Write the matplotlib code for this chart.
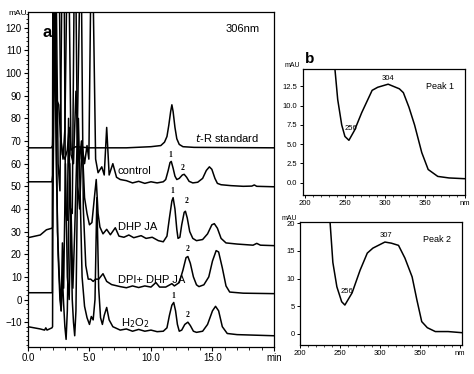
import numpy as np
import matplotlib
matplotlib.use("Agg")
import matplotlib.pyplot as plt
from matplotlib.ticker import MultipleLocator

plt.rcParams['font.family'] = ['Liberation Sans', 'DejaVu Sans']

# ---- panel a: chromatograms at 306 nm (time in min, signal in mAU)
tr_t = [0, 1.9, 2.0, 2.08, 2.15, 2.25, 2.35, 2.5, 2.65, 2.8, 3.0, 3.2, 3.35, 3.5, 3.7, 3.9,
        5.0, 8.0, 10.0, 10.8, 11.1, 11.3, 11.45, 11.6, 11.7, 11.8, 11.95, 12.1, 12.3, 12.6, 13.5, 20]
tr_v = [67, 67, 68, 90, 118, 112, 88, 86, 72, 64, 62, 66, 76, 66, 67, 67.5,
        67, 67, 67.5, 68, 69.5, 72, 77, 83, 86, 83, 76, 71, 68.5, 67.5, 67.2, 67]

ctrl_t = [0, 1.95, 2.02, 2.08, 2.55, 2.7, 2.85, 3.0, 3.15, 3.35, 3.5, 3.7, 3.9, 4.05, 4.2, 4.35,
          4.6, 4.8, 4.95, 5.1, 5.3, 5.5, 5.7, 6.0, 6.2, 6.4, 6.6, 6.9, 7.2, 7.5, 8.0, 8.5, 9.0,
          9.5, 10.0, 10.5, 11.0, 11.2, 11.4, 11.55, 11.65, 11.8, 11.95, 12.1, 12.3, 12.55, 12.7,
          12.9, 13.1, 13.4, 13.8, 14.2, 14.5, 14.75, 14.95, 15.2, 15.4, 15.7, 16.5, 17.5, 18.2,
          18.4, 18.6, 20]
ctrl_v = [52, 52, 55, 135, 135, 70, 62, 75, 135, 135, 64, 60, 92, 70, 62, 70,
          60, 68, 62, 135, 135, 62, 56, 58.6, 55, 76, 55, 60, 54, 53, 52.5, 51.5, 52.2,
          51.3, 52, 51.5, 52, 53, 57, 60.5, 61, 58, 54.5, 53, 53.5, 55, 55.3,
          54, 52.2, 51.5, 51.8, 53.5, 57, 58.6, 57.5, 53.5, 51.3, 50.7, 50.3, 50, 50.1,
          50.6, 50, 49.8]

dhp_t = [0, 1.0, 1.5, 1.95, 2.0, 2.05, 2.3, 2.45, 2.6, 2.75, 2.95, 3.05, 3.2, 3.3, 3.45, 3.6,
         3.75, 3.9, 4.05, 4.2, 4.4, 4.6, 4.8, 5.0, 5.2, 5.4, 5.55, 5.7, 5.85, 6.1, 6.4, 6.7,
         7.1, 7.4, 7.8, 8.2, 8.6, 9.2, 9.6, 10.1, 10.6, 11.0, 11.3, 11.5, 11.7, 11.8, 11.95,
         12.1, 12.2, 12.35, 12.5, 12.7, 12.8, 12.95, 13.15, 13.4, 13.7, 14.2, 14.6, 14.95,
         15.15, 15.4, 15.7, 16.1, 17.0, 18.3, 18.6, 18.9, 20]
dhp_v = [27.3, 28.5, 30.8, 31.5, 32, 135, 135, 60, 48, 135, 135, 40, 35, 80, 40, 38,
         135, 135, 50, 40, 70, 45, 38, 33, 34, 45, 53, 38, 32, 29, 31, 28.6,
         31.7, 28, 27.5, 28.5, 27.3, 28.2, 27, 27.5, 26, 25.5, 28, 36, 43.5, 45, 40,
         31, 27, 27.5, 33, 38.5, 39, 36, 30, 27, 26, 26.5, 29, 33,
         33.5, 31.5, 27, 25, 24.5, 24, 24.8, 24, 23.8]

dpi_t = [0, 1.98, 2.02, 2.2, 2.4, 2.55, 2.7, 2.8, 2.9, 3.05, 3.2, 3.35, 3.5, 3.65, 3.8, 4.0,
         4.2, 4.35, 4.5, 4.7, 4.9, 5.1, 5.3, 5.5, 5.75, 6.1, 6.4, 6.8, 7.5, 8.0, 8.5, 9.0,
         9.5, 10.0, 10.4, 10.7, 11.2, 11.7, 11.9, 12.3, 12.6, 12.85, 13.0, 13.2, 13.45, 13.7,
         13.9, 14.3, 14.7, 15.0, 15.3, 15.5, 15.8, 16.1, 16.4, 17.5, 20]
dpi_v = [3, 3, 135, 135, 30, 10, -5, 25, 5, 60, 10, 0, 40, 5, 30, 70,
         135, 135, 40, 15, 9, 9, 8, 9, 9, 11.4, 8, 6.6, 5.7, 5.2, 6, 5.3,
         6, 5.5, 7.5, 5.5, 5.5, 7, 6, 7.5, 13, 18.5, 19, 16, 10, 6.5,
         5.7, 6.5, 10, 17, 21.6, 21, 14, 6, 3.3, 2.8, 2.6]

h2o2_t = [0, 1.0, 1.35, 1.45, 1.55, 1.95, 2.0, 2.02, 2.1, 2.15, 2.3, 2.45, 2.6, 2.7, 2.8, 2.9,
          3.0, 3.1, 3.2, 3.3, 3.4, 3.5, 3.6, 3.7, 3.8, 3.9, 4.0, 4.1, 4.25, 4.4, 4.6, 4.8,
          5.0, 5.15, 5.3, 5.45, 5.6, 5.75, 5.9, 6.05, 6.2, 6.4, 6.6, 6.9, 7.5, 8.0, 8.5, 9.0,
          9.5, 10.0, 10.5, 11.0, 11.3, 11.5, 11.7, 11.85, 12.0, 12.15, 12.3, 12.5, 12.75, 13.0,
          13.2, 13.45, 13.7, 14.2, 14.6, 15.0, 15.25, 15.5, 15.8, 16.2, 17.0, 20]
h2o2_v = [-12, -13, -13.5, -12.5, -13.5, -12.5, -12, 40, 80, 135, 60, 20, 0, -5, 10, -2,
          -12, -17.6, -5, 30, 60, 30, 0, -10, -16, -5, 40, 80, 45, 10, -3, -8,
          -11, -7.5, -9, 0, 45, 5, -8, -11, -7, -3.5, -9, -12, -13.5, -13, -14, -13.2,
          -14, -13.5, -14.2, -14, -12.5, -7, -2.5, -1.3, -5, -11, -14, -13.5, -11, -10,
          -11.5, -14, -14.5, -14, -11, -5, -3, -5, -12, -15, -15.5, -16]

# ---- panel b: UV spectra (nm, mAU)
p1_nm = [237.5, 241, 246, 250, 255, 262, 271, 284, 291, 304, 318, 323, 330, 337, 346, 354, 366, 380, 400]
p1_v = [14.8, 10.8, 7.5, 6.0, 5.5, 6.8, 9.1, 12.0, 12.4, 12.8, 12.2, 11.7, 9.8, 7.5, 3.9, 1.7, 0.8, 0.6, 0.5]

p2_nm = [237.5, 241, 246, 252, 256, 265, 275, 284, 291, 306, 314, 323, 331, 340, 346, 352, 359, 369, 385, 402]
p2_v = [20.2, 12.9, 8.5, 5.8, 5.2, 7.4, 11.5, 14.6, 15.5, 16.6, 16.4, 16.0, 13.7, 10.3, 6.1, 2.2, 1.1, 0.4, 0.4, 0.2]

fig = plt.figure(figsize=(4.74, 3.74), dpi=100)

ax = fig.add_axes([0.059, 0.072, 0.519, 0.896])
for t, v in [(tr_t, tr_v), (ctrl_t, ctrl_v), (dhp_t, dhp_v), (dpi_t, dpi_v), (h2o2_t, h2o2_v)]:
    ax.plot(t, v, color='black', lw=1.1)
ax.set_xlim(0, 20)
ax.set_ylim(-21, 127)
ax.set_yticks(np.arange(-10, 121, 10))
ax.yaxis.set_minor_locator(MultipleLocator(2))
ax.set_xticks([0, 5, 10, 15, 20])
ax.set_xticklabels(['0.0', '5.0', '10.0', '15.0', 'min'])
ax.xaxis.set_minor_locator(MultipleLocator(1))
ax.tick_params(labelsize=7, length=3, width=0.8, pad=1.5)
ax.tick_params(which='minor', length=1.8, width=0.6)
for s in ax.spines.values():
    s.set_linewidth(0.9)
ax.text(-0.005, 0.985, 'mAU', transform=ax.transAxes, fontsize=6, ha='right', va='bottom')
ax.text(0.06, 0.925, 'a', transform=ax.transAxes, fontsize=12, fontweight='bold')
ax.text(0.94, 0.94, '306nm', transform=ax.transAxes, fontsize=8, ha='right')

ax.text(13.6, 69.5, '$\\it{t}$-R standard', fontsize=8)
ax.text(7.3, 55.5, 'control', fontsize=8)
ax.text(7.3, 30.5, 'DHP JA', fontsize=8)
ax.text(7.3, 7.5, 'DPI+ DHP JA', fontsize=8)
ax.text(7.6, -12, 'H$_2$O$_2$', fontsize=8)
nums = [(11.6, 63, '1'), (12.6, 57, '2'), (11.75, 47, '1'), (12.9, 42.5, '2'),
        (13.0, 21.5, '2'), (11.85, 0.5, '1'), (13.0, -7.5, '2')]
for x, y, s in nums:
    ax.text(x, y, s, fontsize=5.5, family='Liberation Serif', fontweight='bold', ha='center')

def spec(pos, nm, v, xlim, ylim, yt, ylabs, peak, lab_pk, lab_min):
    b = fig.add_axes(pos)
    b.plot(nm, v, color='black', lw=1.1)
    b.set_xlim(*xlim)
    b.set_ylim(*ylim)
    b.set_xticks([200, 250, 300, 350, 400])
    b.set_xticklabels(['200', '250', '300', '350', 'nm'])
    b.xaxis.set_minor_locator(MultipleLocator(10))
    b.set_yticks(yt)
    b.set_yticklabels(ylabs)
    b.tick_params(labelsize=5.5, length=2.5, width=0.7, pad=1.5)
    b.tick_params(which='minor', length=1.5, width=0.5)
    for s in b.spines.values():
        s.set_linewidth(0.9)
    b.text(-0.02, 1.0, 'mAU', transform=b.transAxes, fontsize=5, ha='right', va='bottom')
    b.text(0.93, 0.84, peak, transform=b.transAxes, fontsize=6.5, ha='right')
    b.text(lab_pk[0], lab_pk[1], lab_pk[2], fontsize=5.5, ha='center')
    b.text(lab_min[0], lab_min[1], lab_min[2], fontsize=5.5, ha='center')
    return b

b1 = spec([0.639, 0.479, 0.342, 0.337], p1_nm, p1_v, (197.5, 400), (-1.6, 14.8),
          [0, 2.5, 5, 7.5, 10, 12.5], ['0.0', '2.5', '5.0', '7.5', '10.0', '12.5'],
          'Peak 1', (304, 13.4, '304'), (257, 6.8, '256'))
b1.text(0.015, 1.05, 'b', transform=b1.transAxes, fontsize=11, fontweight='bold')
spec([0.633, 0.078, 0.342, 0.328], p2_nm, p2_v, (200, 402.5), (-2, 20.2),
     [0, 5, 10, 15, 20], ['0', '5', '10', '15', '20'],
     'Peak 2', (307, 17.6, '307'), (259, 7.4, '256'))

fig.savefig('out.png', dpi=100)
